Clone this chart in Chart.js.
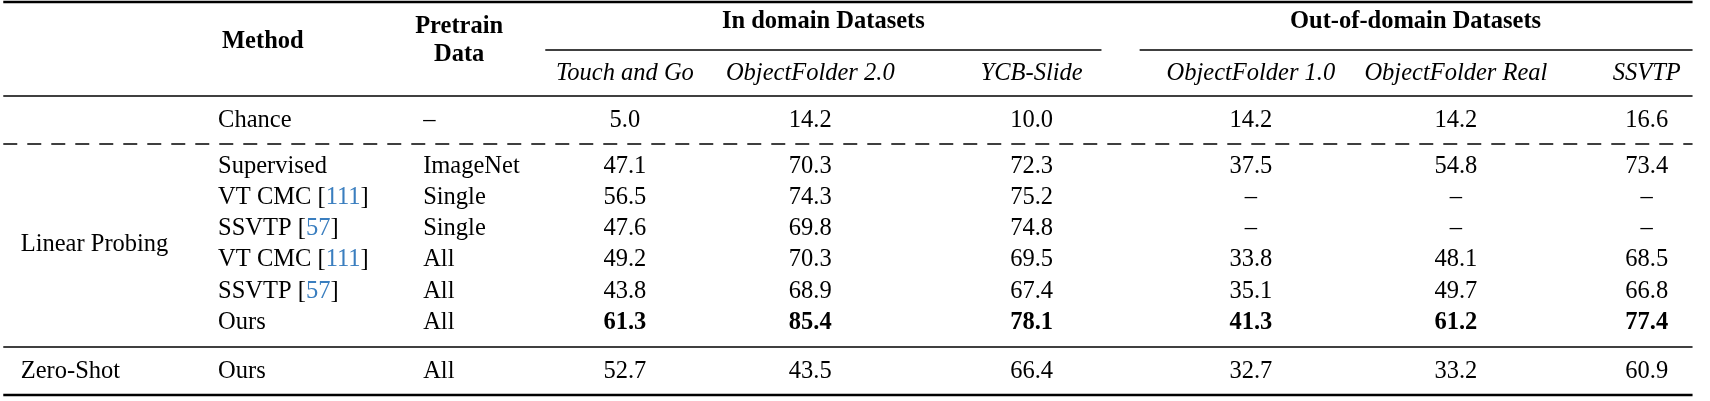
<!DOCTYPE html>
<html><head><meta charset="utf-8">
<script src="https://cdn.jsdelivr.net/npm/chart.js@4"></script>
<style>html,body{margin:0;padding:0;background:#fff}</style></head>
<body><canvas id="c" width="1710" height="401"></canvas>
<script>
const groupHeaders = ["In domain Datasets", "Out-of-domain Datasets"];
const datasets = ["Touch and Go", "ObjectFolder 2.0", "YCB-Slide", "ObjectFolder 1.0", "ObjectFolder Real", "SSVTP"];
const settings = ["", "", "Linear Probing", "", "", "", "", "Zero-Shot"];
const methods = ["Chance", "Supervised", "VT CMC [111]", "SSVTP [57]", "VT CMC [111]", "SSVTP [57]", "Ours", "Ours"];
const pretrain = ["–", "ImageNet", "Single", "Single", "All", "All", "All", "All"];
const touchAndGo = ["5.0", "47.1", "56.5", "47.6", "49.2", "43.8", "61.3", "52.7"];
const objectFolder2 = ["14.2", "70.3", "74.3", "69.8", "70.3", "68.9", "85.4", "43.5"];
const ycbSlide = ["10.0", "72.3", "75.2", "74.8", "69.5", "67.4", "78.1", "66.4"];
const objectFolder1 = ["14.2", "37.5", "–", "–", "33.8", "35.1", "41.3", "32.7"];
const objectFolderReal = ["14.2", "54.8", "–", "–", "48.1", "49.7", "61.2", "33.2"];
const ssvtp = ["16.6", "73.4", "–", "–", "68.5", "66.8", "77.4", "60.9"];
const boldRow = 6;

const colX = [573, 743, 946, 1147, 1335, 1510];
const rowY = [121, 167, 198, 229, 260, 292, 323, 372];
const cols = [touchAndGo, objectFolder2, ycbSlide, objectFolder1, objectFolderReal, ssvtp];
const F = "'Liberation Serif', 'DejaVu Serif', serif";

const tablePlugin = {
  id: 'table',
  afterDraw(chart) {
    const ctx = chart.ctx, X = v => chart.scales.x.getPixelForValue(v), Y = v => chart.scales.y.getPixelForValue(v);
    const fs = 24.5;
    ctx.save();
    ctx.textBaseline = 'middle';
    ctx.fillStyle = '#000';
    const font = (b, i) => (i ? 'italic ' : '') + (b ? 'bold ' : '') + fs + 'px ' + F;
    const line = (x1, x2, y, w, dash) => {
      ctx.beginPath(); ctx.lineWidth = w; ctx.setLineDash(dash || []);
      ctx.moveTo(X(x1), Y(y)); ctx.lineTo(X(x2), Y(y)); ctx.strokeStyle = '#000'; ctx.stroke();
    };
    line(3, 1552, 2, 2.5);
    line(500, 1010, 50, 1.3);
    line(1045, 1552, 50, 1.3);
    line(3, 1552, 96, 1.3);
    line(3, 1552, 144, 1.3, [14, 10]);
    line(3, 1552, 347, 1.3);
    line(3, 1552, 395, 2.5);
    ctx.textAlign = 'center';
    ctx.font = font(true);
    ctx.fillText("Method", X(241), Y(42));
    ctx.fillText("Pretrain", X(421), Y(27));
    ctx.fillText("Data", X(421), Y(55));
    ctx.fillText(groupHeaders[0], X(755), Y(22));
    ctx.fillText(groupHeaders[1], X(1298), Y(22));
    ctx.font = font(false, true);
    datasets.forEach((d, i) => ctx.fillText(d, X(colX[i]), Y(74)));
    for (let r = 0; r < methods.length; r++) {
      ctx.textAlign = 'left';
      ctx.font = font(false);
      ctx.fillStyle = '#000';
      if (settings[r]) ctx.fillText(settings[r], X(19), Y(r === 2 ? 245 : rowY[r]));
      const m = methods[r].match(/^(.*\[)(\d+)(\].*)$/);
      let x = X(200);
      if (m) {
        ctx.fillStyle = '#000'; ctx.fillText(m[1], x, Y(rowY[r])); x += ctx.measureText(m[1]).width;
        ctx.fillStyle = '#3a7ebf'; ctx.fillText(m[2], x, Y(rowY[r])); x += ctx.measureText(m[2]).width;
        ctx.fillStyle = '#000'; ctx.fillText(m[3], x, Y(rowY[r]));
      } else ctx.fillText(methods[r], x, Y(rowY[r]));
      ctx.fillText(pretrain[r], X(388), Y(rowY[r]));
      ctx.textAlign = 'center';
      ctx.font = font(r === boldRow);
      cols.forEach((c, i) => ctx.fillText(c[r], X(colX[i]), Y(rowY[r])));
    }
    ctx.restore();
  }
};

new Chart(document.getElementById('c'), {
  type: 'scatter',
  data: { datasets: [{ data: [] }] },
  options: {
    responsive: false, animation: false, events: [],
    layout: { padding: 0 },
    plugins: { legend: { display: false }, tooltip: { enabled: false } },
    scales: {
      x: { type: 'linear', min: 0, max: 1568, display: false },
      y: { type: 'linear', min: 0, max: 401, reverse: true, display: false }
    }
  },
  plugins: [tablePlugin]
});
</script></body></html>
